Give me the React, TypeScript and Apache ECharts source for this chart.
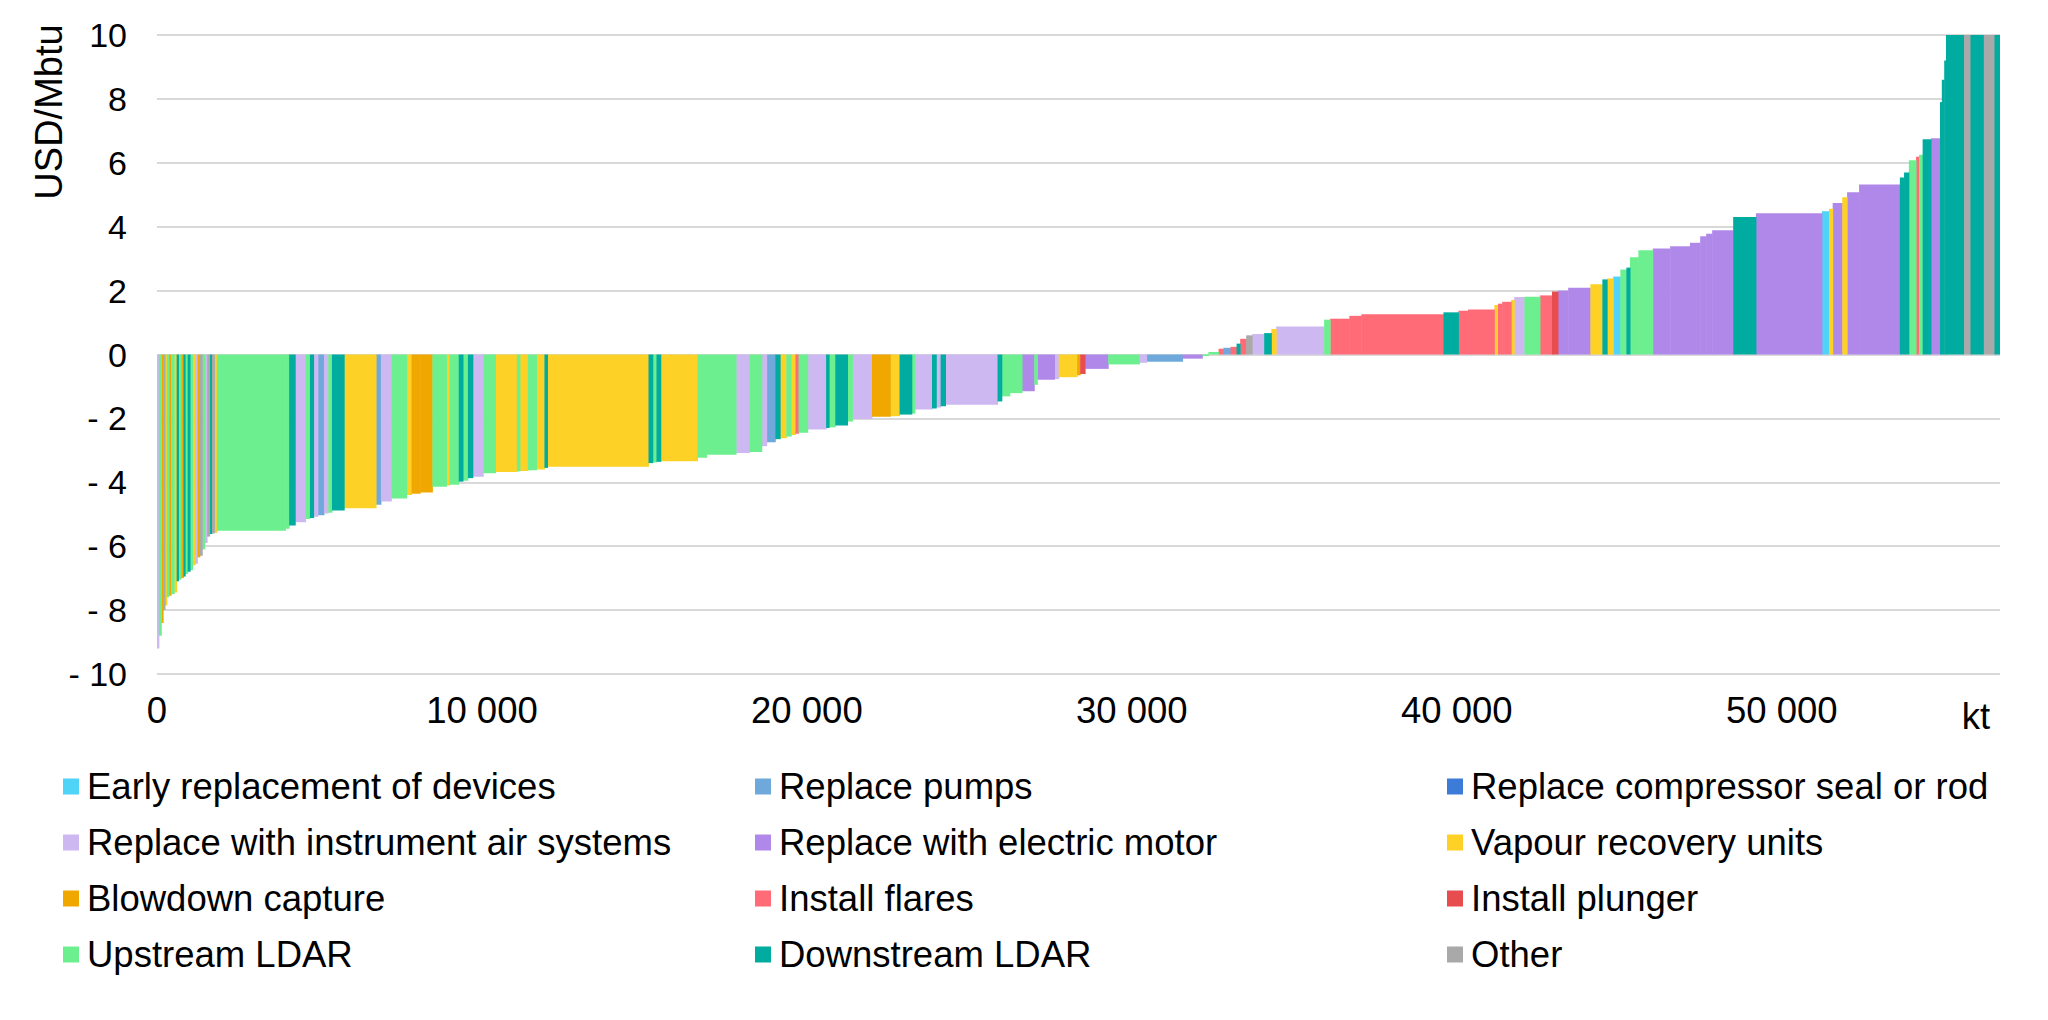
import React, { useEffect, useRef } from "react";
import * as echarts from "echarts";

const measureNames = [
  "Early replacement of devices",
  "Replace pumps",
  "Replace compressor seal or rod",
  "Replace with instrument air systems",
  "Replace with electric motor",
  "Vapour recovery units",
  "Blowdown capture",
  "Install flares",
  "Install plunger",
  "Upstream LDAR",
  "Downstream LDAR",
  "Other",
];
const measureKeys = ["E", "P", "C", "I", "M", "V", "B", "F", "L", "U", "D", "O"];
const measureColors = [
  "#4fd3f7", "#6fa9dc", "#3c7bd8", "#cdb8f2", "#b088ea", "#fdd126",
  "#f0a800", "#ff6b77", "#e74c4e", "#6cf08f", "#00ac9f", "#a9a9a9",
];

// Abatement potential of each measure block (kt), in merit order
const widths = [
  57, 75, 57, 57, 57, 57, 75, 94, 75, 57, 75, 75, 57, 75, 75, 75, 75, 75, 75, 75, 75, 75, 75, 75, 75, 75,
  2110, 113, 188, 320, 132, 113, 132, 188, 132, 113, 377, 980, 151, 320, 471, 151, 264, 377, 433, 94,
  283, 132, 151, 151, 320, 377, 659, 94, 245, 264, 245, 94, 3109, 132, 113, 132, 1130, 283, 904, 415,
  377, 151, 264, 151, 188, 151, 132, 94, 283, 565, 94, 188, 377, 151, 603, 565, 283, 377, 94, 528,
  132, 132, 151, 1601, 132, 245, 377, 377, 94, 528, 132, 565, 94, 151, 712,
  959, 221, 1107, 609, 185, 314, 148, 221, 185, 111, 185, 185, 369, 221, 148, 1476, 185, 590, 369, 2528,
  461, 295, 812, 111, 129, 277, 92, 314, 480, 369, 185, 314, 683, 369, 148, 185, 221, 185, 111, 258,
  443, 535, 609, 314, 185, 185, 646, 701, 2030, 221, 111, 295, 148, 369, 1255, 129, 148, 221, 92, 111,
  258, 277, 55, 74, 55, 554, 185, 424, 314, 185,
];

// Cost of each block (USD/Mbtu)
const costs = [
  -9.2, -8.8, -8.4, -8.0, -7.85, -7.6, -7.55, -7.5, -7.45, -7.1, -7.05, -7.0, -6.95, -6.87, -6.8, -6.75,
  -6.6, -6.55, -6.35, -6.3, -6.1, -5.9, -5.7, -5.62, -5.6, -5.58,
  -5.52, -5.45, -5.35, -5.25, -5.15, -5.12, -5.08, -5.03, -4.98, -4.95, -4.88, -4.81, -4.7, -4.6, -4.51,
  -4.4, -4.36, -4.32, -4.14, -4.1, -4.08, -3.98, -3.95, -3.87, -3.83, -3.72, -3.68, -3.66, -3.65, -3.62,
  -3.6, -3.55, -3.51, -3.4, -3.38, -3.36, -3.34, -3.23, -3.14, -3.08, -3.05, -2.87, -2.75, -2.65, -2.62,
  -2.57, -2.52, -2.48, -2.45, -2.35, -2.3, -2.28, -2.22, -2.1, -2.02, -1.95, -1.93, -1.88, -1.85, -1.72,
  -1.69, -1.66, -1.62, -1.57, -1.47, -1.31, -1.21, -1.15, -0.95, -0.79, -0.77, -0.71, -0.65, -0.61, -0.45,
  -0.31, -0.26, -0.23, -0.13, -0.05, 0.08, 0.18, 0.21, 0.24, 0.34, 0.49, 0.6, 0.64, 0.67, 0.8, 0.88, 1.09,
  1.12, 1.21, 1.26, 1.32, 1.37, 1.41, 1.55, 1.59, 1.65, 1.71, 1.8, 1.81, 1.85, 1.97, 2.0, 2.09, 2.2, 2.35,
  2.38, 2.44, 2.66, 2.72, 3.04, 3.26, 3.32, 3.39, 3.5, 3.7, 3.78, 3.89, 4.3, 4.42, 4.48, 4.56, 4.74, 4.92,
  5.08, 5.32, 5.54, 5.7, 6.08, 6.19, 6.25, 6.74, 6.77, 7.9, 8.6, 9.2, 12, 14, 16, 18, 22,
];

// Measure type of each block
const measures = [
  "I", "U", "B", "O", "V", "U", "B", "U", "V", "D", "U", "B", "D", "U", "D", "U", "V", "I", "B", "O", "U", "I", "O", "D", "O", "V",
  "U", "U", "D", "I", "U", "D", "I", "P", "I", "U", "D", "V", "P", "I", "U", "V", "B", "B", "U", "V",
  "U", "D", "U", "D", "I", "U", "V", "U", "V", "U", "V", "D", "V", "D", "U", "D", "V", "U", "U", "I",
  "U", "I", "P", "D", "V", "U", "V", "F", "U", "I", "D", "U", "D", "U", "I", "B", "V", "D", "U", "I",
  "D", "I", "D", "I", "D", "U", "U", "M", "U", "M", "I", "V", "B", "L", "M",
  "U", "I", "P", "M", "U", "U", "F", "P", "F", "D", "F", "O", "I", "D", "V", "I", "U", "F", "F", "F",
  "D", "F", "F", "V", "F", "F", "V", "I", "U", "F", "L", "M", "M", "V", "D", "V", "E", "U", "D", "U",
  "U", "M", "M", "M", "M", "M", "M", "D", "M", "E", "V", "M", "V", "M", "M", "D", "D", "U", "F", "U",
  "D", "M", "D", "D", "D", "D", "O", "D", "O", "D",
];

const xTicks = [0, 10000, 20000, 30000, 40000, 50000];
const yTicks = [-10, -8, -6, -4, -2, 0, 2, 4, 6, 8, 10];

const FONT = "'Liberation Sans', Arial, Helvetica, sans-serif";

export default function App() {
  const ref = useRef<HTMLDivElement>(null);

  useEffect(() => {
    document.body.style.margin = "0";
    if (!ref.current) return;
    const chart = echarts.init(ref.current, undefined, { renderer: "svg" });

    let cum = 0;
    const segs = widths.map((w, i) => {
      const s = cum;
      cum += w;
      return { start: s, end: cum, cost: costs[i], key: measures[i] };
    });
    const total = cum;
    const yMin = yTicks[0];
    const yMax = yTicks[yTicks.length - 1];

    const series = measureKeys.map((k, idx) => ({
      type: "custom",
      name: measureNames[idx],
      clip: true,
      itemStyle: { color: measureColors[idx] },
      encode: { x: [0, 1], y: 2 },
      data: segs.filter((s) => s.key === k).map((s) => [s.start, s.end, s.cost]),
      renderItem: (params: any, api: any) => {
        const x0 = api.value(0);
        const x1 = api.value(1);
        const v = Math.max(yMin, Math.min(yMax, api.value(2)));
        const a = api.coord([x0, 0]);
        const b = api.coord([x1, v]);
        return {
          type: "rect",
          shape: {
            x: a[0],
            y: Math.min(a[1], b[1]),
            width: Math.max(b[0] - a[0], 0.5) + 0.5,
            height: Math.abs(b[1] - a[1]),
          },
          style: { fill: measureColors[idx] },
        };
      },
    }));

    const columns = [0, 1, 2];
    const legendLefts = [63, 755, 1447];

    chart.setOption({
      animation: false,
      textStyle: { fontFamily: FONT },
      grid: { left: 157, right: 48, top: 35, bottom: 346, containLabel: false },
      xAxis: {
        type: "value",
        min: 0,
        max: total,
        interval: xTicks[1] - xTicks[0],
        axisLine: { show: false },
        axisTick: { show: false },
        splitLine: { show: false },
        axisLabel: {
          showMaxLabel: false,
          margin: 18,
          fontSize: 36.5,
          color: "#000",
          fontFamily: FONT,
          formatter: (v: number) =>
            xTicks.includes(v) ? String(v).replace(/\B(?=(\d{3})+(?!\d))/g, " ") : "",
        },
      },
      yAxis: {
        type: "value",
        min: yMin,
        max: yMax,
        interval: yTicks[1] - yTicks[0],
        axisLine: { show: false },
        axisTick: { show: false },
        splitLine: { show: true, lineStyle: { color: "#d9d9d9", width: 2 } },
        axisLabel: {
          margin: 30,
          fontSize: 34,
          color: "#000",
          fontFamily: FONT,
          formatter: (v: number) => (v < 0 ? "- " + Math.abs(v) : String(v)),
        },
      },
      legend: columns.map((c) => ({
        orient: "vertical",
        left: legendLefts[c],
        top: 768,
        padding: 0,
        itemWidth: 16,
        itemHeight: 16,
        itemGap: 19,
        icon: "rect",
        selectedMode: false,
        textStyle: { fontSize: 36.5, color: "#000", fontFamily: FONT, padding: [0, 0, 0, 3] },
        data: [0, 1, 2, 3].map((r) => measureNames[r * 3 + c]),
      })),
      graphic: [
        {
          type: "text",
          x: 49,
          y: 112,
          rotation: Math.PI / 2,
          style: {
            text: "USD/Mbtu",
            fontSize: 38,
            fontFamily: FONT,
            fill: "#000",
            textAlign: "center",
            textVerticalAlign: "middle",
          },
        },
        {
          type: "text",
          x: 1976,
          y: 716,
          style: {
            text: "kt",
            fontSize: 36.5,
            fontFamily: FONT,
            fill: "#000",
            textAlign: "center",
            textVerticalAlign: "middle",
          },
        },
      ],
      series,
    });

    return () => {
      chart.dispose();
    };
  }, []);

  return <div ref={ref} style={{ width: 2048, height: 1020 }} />;
}
